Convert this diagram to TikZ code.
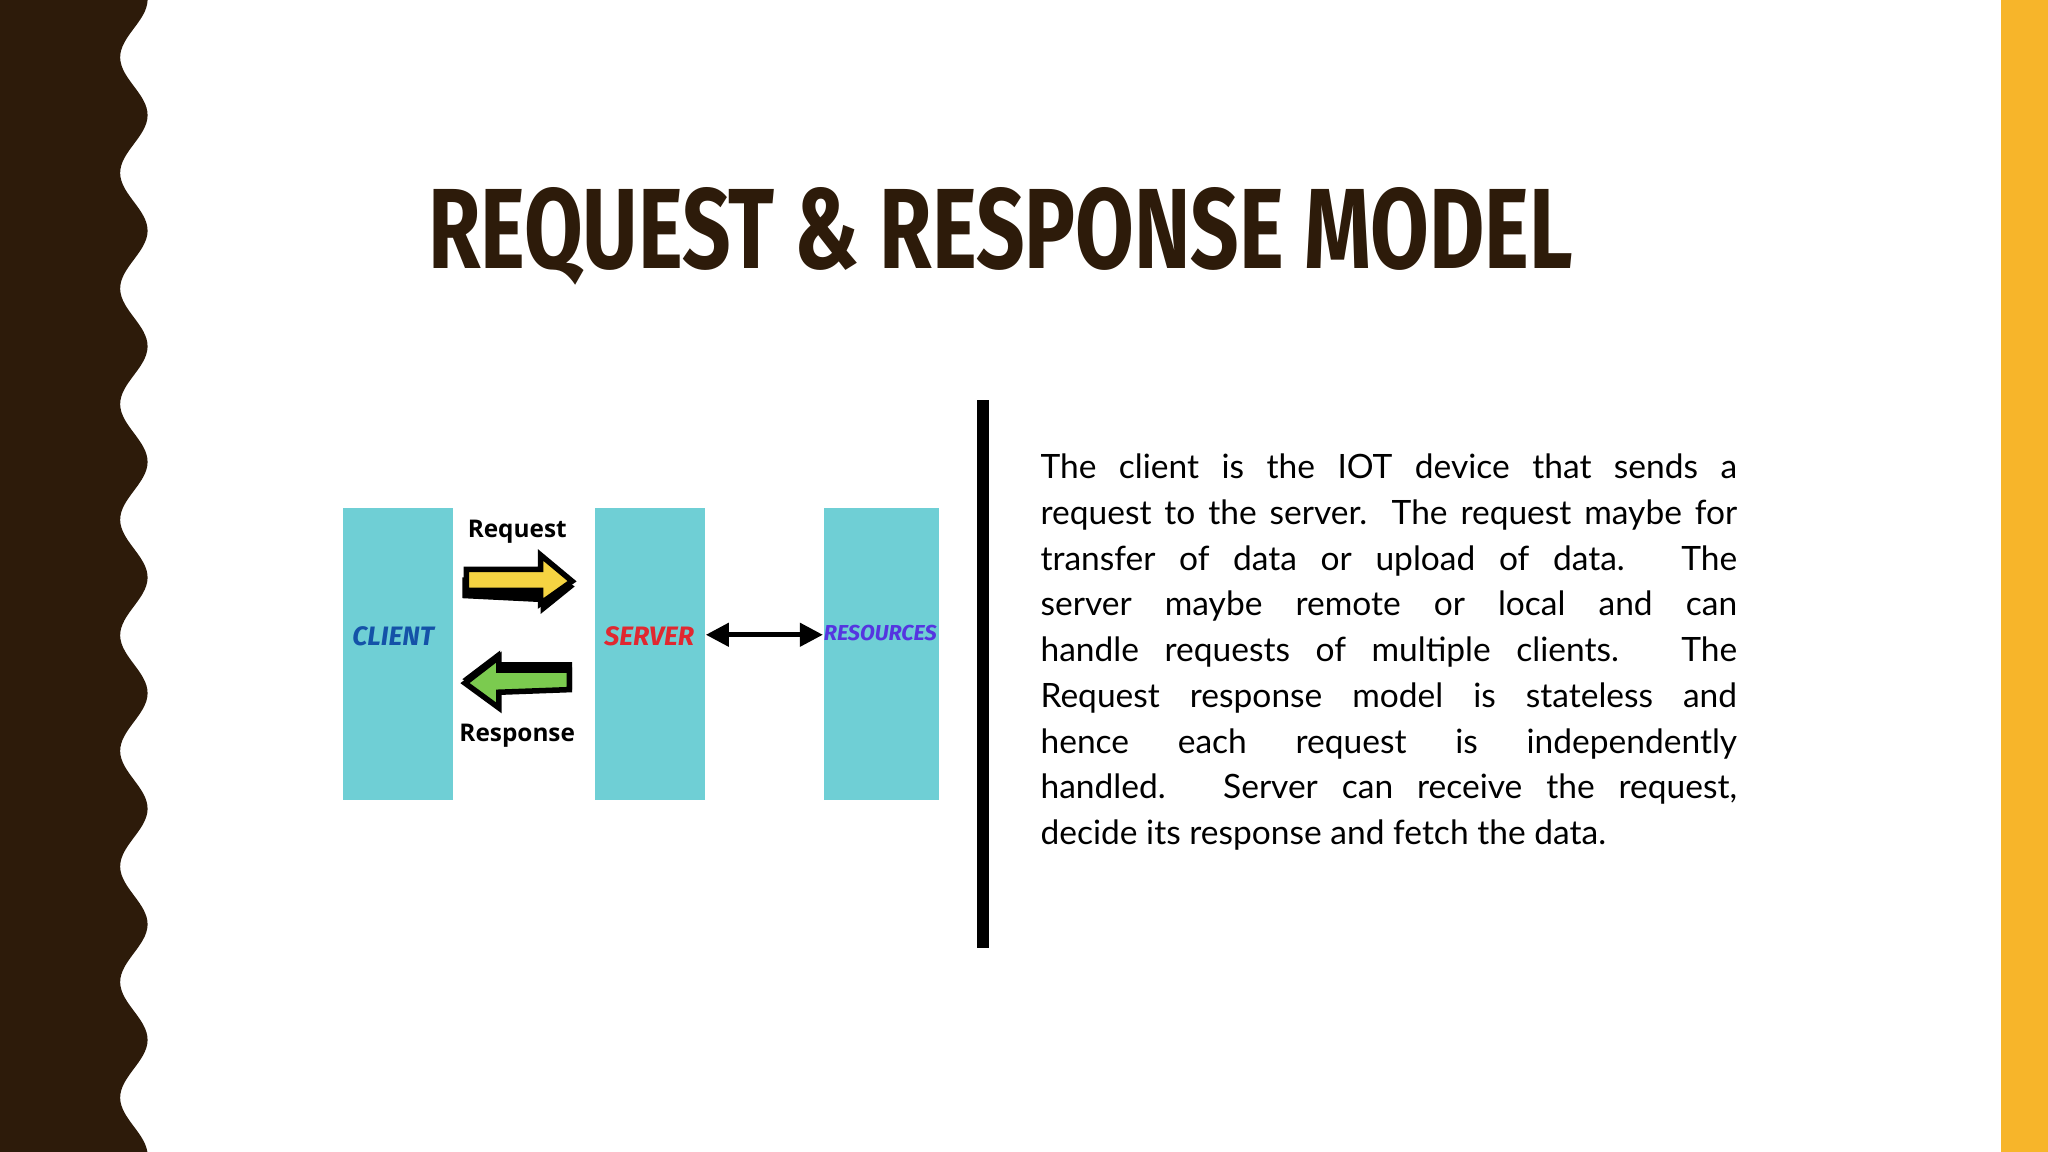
\documentclass[tikz,border=0pt]{standalone}
\usepackage{fontspec}
\setmainfont{Lato}
\newfontfamily\titlefont{Fira Sans}
\newfontfamily\lblfont{Open Sans}
\newfontfamily\boxfont{Fira Sans}
\usetikzlibrary{arrows.meta}
\definecolor{brownd}{HTML}{2D1B0A}
\definecolor{orng}{HTML}{F7B52A}
\definecolor{tealb}{HTML}{6FCFD5}
\definecolor{yel}{HTML}{F5D442}
\definecolor{grn}{HTML}{7BCB4F}
\definecolor{cblue}{HTML}{1452A8}
\definecolor{sred}{HTML}{E02830}
\definecolor{rpurp}{HTML}{5535E0}
\tikzset{
  box/.style={fill=tealb, draw=none, minimum width=#1, anchor=north west},
  boxlbl/.style={font=\boxfont\bfseries\itshape\fontsize{5.8}{7}\selectfont},
  arrlbl/.style={font=\lblfont\bfseries\fontsize{5.3}{7}\selectfont},
}
\begin{document}
\begin{tikzpicture}[x=0.01cm,y=-0.01cm]
\useasboundingbox (0,0) rectangle (1568,882);
\fill[white] (0,0) rectangle (1568,882);
% left wavy band
\fill[brownd] (0,0) -- plot[domain=0:882,samples=300,smooth] ({102.5+10.5*sin(4.0678*(\x-66))},\x) -- (0,882) -- cycle;
% right strip
\fill[orng] (1532,0) rectangle (1568,882);
% title
\node[text=brownd, inner sep=0] (title) at (766,181) {\resizebox{8.76cm}{0.62cm}{\titlefont\bfseries REQUEST \& RESPONSE MODEL}};
% divider
\fill[black] (748,306) rectangle (757,726);
% paragraph
\node[anchor=north west, inner sep=0, text width=5.33cm, align=justify, font=\fontsize{7.3}{9.95}\selectfont] (para) at (796,347) {The client is the IOT device that sends a\linebreak request to the server. The request maybe for\linebreak transfer of data or upload of data. The\linebreak server maybe remote or local and can\linebreak handle requests of multiple clients. The\linebreak Request response model is stateless and\linebreak hence each request is independently\linebreak handled. Server can receive the request,\linebreak decide its response and fetch the data.};
% boxes
\node[box=0.84cm, minimum height=2.24cm] (client) at (262,388) {};
\node[box=0.84cm, minimum height=2.24cm] (server) at (455,388) {};
\node[box=0.88cm, minimum height=2.24cm] (res) at (630,388) {};
\node[boxlbl, text=cblue] (cl) at (301,487) {CLIENT};
\node[boxlbl, text=sred] (sl) at (497,487) {SERVER};
\node[boxlbl, text=rpurp, font=\boxfont\bfseries\itshape\fontsize{4.7}{6}\selectfont] (rl) at (674,485) {RESOURCES};
\draw[{Triangle[length=5pt,width=5pt]}-{Triangle[length=5pt,width=5pt]}, line width=1pt] (server.east |- 0,486) -- (res.west |- 0,486);
% labels
\node[arrlbl] (req) at (396,407) {Request};
\node[arrlbl] (resp) at (396,563) {Response};
% yellow arrow (shadow + body)
\fill[black] (354,442) -- (412,442) -- (412,430) -- (440,449) -- (414,470) -- (414,461) -- (354,458) -- cycle;
\draw[black, line width=1.2pt, fill=yel] (357,436) -- (414,436) -- (414,425) -- (438,445) -- (414,462) -- (414,452) -- (357,452) -- cycle;
% green arrow
\fill[black] (438,507) -- (382,507) -- (383,498) -- (354,520) -- (383,538) -- (383,530) -- (438,528) -- cycle;
\draw[black, line width=1.2pt, fill=grn] (436,513) -- (382,513) -- (382,503) -- (356,523) -- (382,542) -- (382,530) -- (436,528) -- cycle;
\end{tikzpicture}
\end{document}
